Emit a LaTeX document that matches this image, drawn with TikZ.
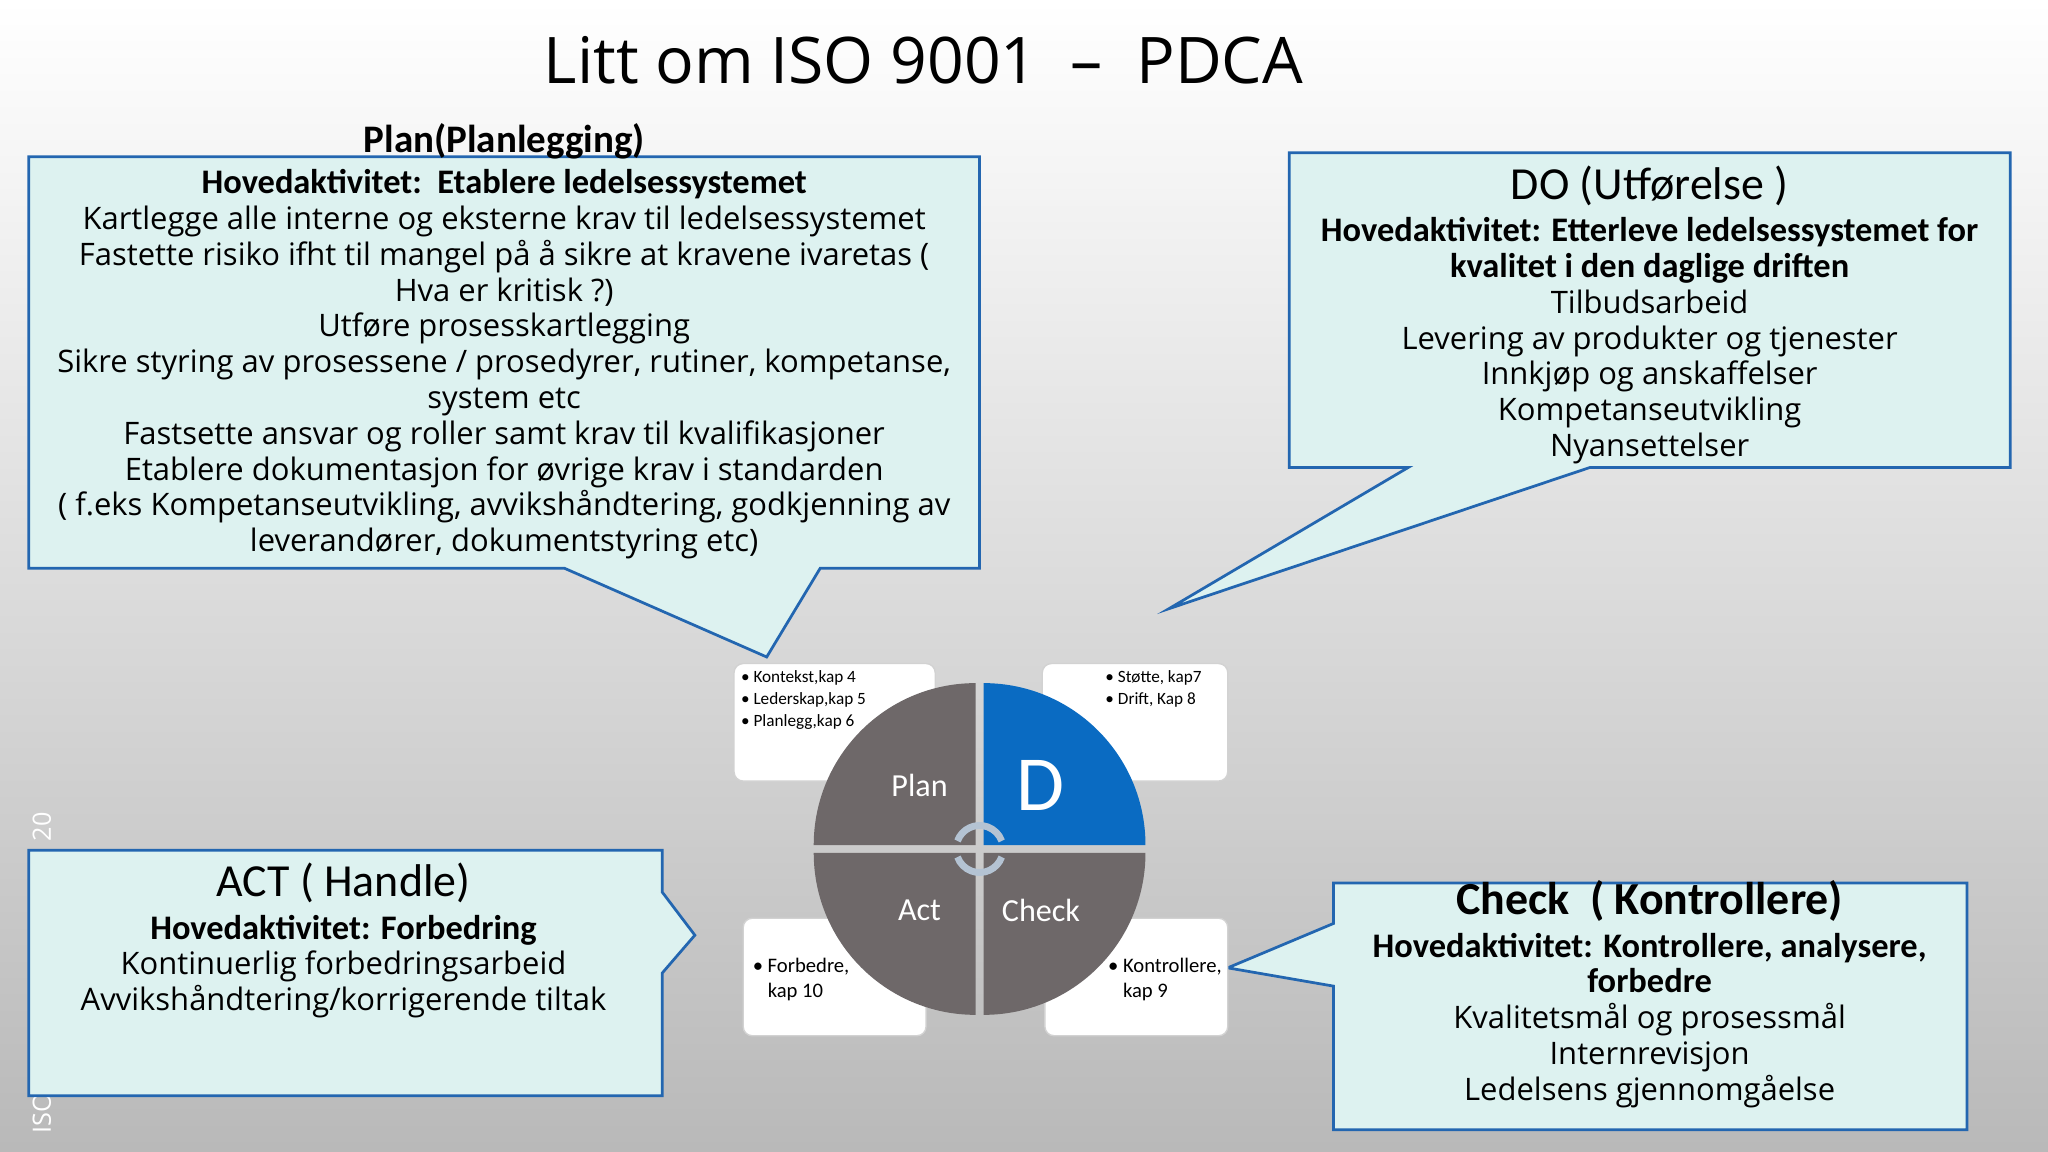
\documentclass[tikz,border=0pt]{standalone}
\usepackage{fontspec}
\setmainfont{Open Sans}
\newfontfamily\calib{Carlito}
\usetikzlibrary{positioning}
\definecolor{boxfill}{HTML}{DDF2F0}
\definecolor{boxline}{HTML}{2366B0}
\definecolor{quadgray}{HTML}{6E6869}
\definecolor{quadblue}{HTML}{0A6BC2}
\definecolor{cyclecol}{HTML}{B4C3D3}
\tikzset{
  callout/.style={draw=boxline, fill=boxfill, line width=1.2pt, line join=miter},
  bodytext/.style={align=center, font=\fontsize{13.5}{15.6}\selectfont, inner sep=0pt},
  chapbox/.style={draw=gray!35, fill=white, rounded corners=4pt, line width=0.6pt},
  chaptext/.style={font=\calib\fontsize{7.5}{9.5}\selectfont, align=left, inner sep=0pt, anchor=north west},
  quadtext/.style={text=white, font=\calib\fontsize{14}{16}\selectfont}
}
\newcommand{\boldline}[1]{{\calib\bfseries\fontsize{15}{15.6}\selectfont #1}}
\begin{document}
\begin{tikzpicture}[x=0.02cm, y=-0.02cm]
  % background
  \shade[top color=white, bottom color=gray!55] (0,0) rectangle (1568,882);
  \useasboundingbox (0,0) rectangle (1568,882);
  % title
  \node (title) at (707,46) {\fontsize{28}{30}\selectfont Litt om ISO 9001 \ -- \ PDCA};
  \node[text=white, rotate=90, font=\fontsize{11}{12}\selectfont] (isoa) at (32,633) {20};
  \node[text=white, rotate=90, font=\fontsize{11}{12}\selectfont] (isob) at (32,852) {ISO};
  % plan callout
  \draw[callout] (22,120) -- (750,120) -- (750,435) -- (628,435) -- (587,503)
    -- (432,435) -- (22,435) -- cycle;
  \node[font=\calib\bfseries\fontsize{17}{18}\selectfont] (planhead) at (386,108) {Plan(Planlegging)};
  \node[bodytext] (plantext) at (386,279) {\boldline{Hovedaktivitet:\ \ Etablere ledelsessystemet}\\
    Kartlegge alle interne og eksterne krav til ledelsessystemet\\
    Fastette risiko ifht til mangel på å sikre at kravene ivaretas (\\
    Hva er kritisk ?)\\
    Utføre prosesskartlegging\\
    Sikre styring av prosessene / prosedyrer, rutiner, kompetanse,\\
    system etc\\
    Fastsette ansvar og roller samt krav til kvalifikasjoner\\
    Etablere dokumentasjon for øvrige krav i standarden\\
    ( f.eks Kompetanseutvikling, avvikshåndtering, godkjenning av\\
    leverandører, dokumentstyring etc)};
  % do callout
  \draw[callout] (987,117) -- (1539,117) -- (1539,358) -- (1217,358) -- (895,466)
    -- (1078,358) -- (987,358) -- cycle;
  \node[bodytext] (dotext) at (1263,241) {{\calib\fontsize{20}{20}\selectfont DO (Utførelse )}\\[3pt]
    \boldline{Hovedaktivitet: Etterleve ledelsessystemet for}\\
    \boldline{kvalitet i den daglige driften}\\
    Tilbudsarbeid\\
    Levering av produkter og tjenester\\
    Innkjøp og anskaffelser\\
    Kompetanseutvikling\\
    Nyansettelser};
  % act callout
  \draw[callout] (22,651) -- (507,651) -- (507,683) -- (532,716) -- (507,745)
    -- (507,839) -- (22,839) -- cycle;
  \node[bodytext] (acttext) at (263,720) {{\calib\fontsize{20}{20}\selectfont ACT ( Handle)}\\[3pt]
    \boldline{Hovedaktivitet: Forbedring}\\
    Kontinuerlig forbedringsarbeid\\
    Avvikshåndtering/korrigerende tiltak};
  % check callout
  \draw[callout] (1021,676) -- (1506,676) -- (1506,865) -- (1021,865) -- (1021,755)
    -- (940,741) -- (1021,707) -- cycle;
  \node[bodytext] (checktext) at (1263,761) {{\calib\bfseries\fontsize{20}{20}\selectfont Check\ \ ( Kontrollere)}\\[3pt]
    \boldline{Hovedaktivitet: Kontrollere, analysere,}\\
    \boldline{forbedre}\\
    Kvalitetsmål og prosessmål\\
    Internrevisjon\\
    Ledelsens gjennomgåelse};
  % chapter boxes
  \draw[chapbox] (562,508) rectangle (716,598);
  \draw[chapbox] (798,508) rectangle (940,598);
  \draw[chapbox] (569,703) rectangle (709,793);
  \draw[chapbox] (800,703) rectangle (940,793);
  \node[chaptext] (kapplan) at (567,513) {\textbullet\ Kontekst,kap 4\\ \textbullet\ Lederskap,kap 5\\ \textbullet\ Planlegg,kap 6};
  \node[chaptext] (kapdo) at (846,513) {\textbullet\ Støtte, kap7\\ \textbullet\ Drift, Kap 8};
  \node[chaptext, font=\calib\fontsize{9}{11}\selectfont] (kapact) at (576,733) {\textbullet\ Forbedre,\\ \hphantom{\textbullet\ }kap 10};
  \node[chaptext, font=\calib\fontsize{9}{11}\selectfont] (kapcheck) at (848,733) {\textbullet\ Kontrollere,\\ \hphantom{\textbullet\ }kap 9};
  % pdca wheel
  \coordinate (c) at (750,650);
  \fill[quadgray] (747,647) -- (623,647) arc[start angle=180, end angle=270, radius=124] -- cycle;
  \fill[quadblue] (753,647) -- (753,523) arc[start angle=270, end angle=360, radius=124] -- cycle;
  \fill[quadgray] (753,653) -- (877,653) arc[start angle=0, end angle=90, radius=124] -- cycle;
  \fill[quadgray] (747,653) -- (747,777) arc[start angle=90, end angle=180, radius=124] -- cycle;
  \node[quadtext] (plan) at (704,601) {Plan};
  \node[quadtext, font=\calib\fontsize{34}{36}\selectfont] (dolab) at (797,601) {D};
  \node[quadtext] (act) at (704,697) {Act};
  \node[quadtext] (check) at (797,697) {Check};
  \draw[cyclecol, line width=3pt] (c) ++(200:18) arc[start angle=200, end angle=340, radius=18];
  \draw[cyclecol, line width=3pt] (c) ++(20:18) arc[start angle=20, end angle=160, radius=18];
\end{tikzpicture}
\end{document}
